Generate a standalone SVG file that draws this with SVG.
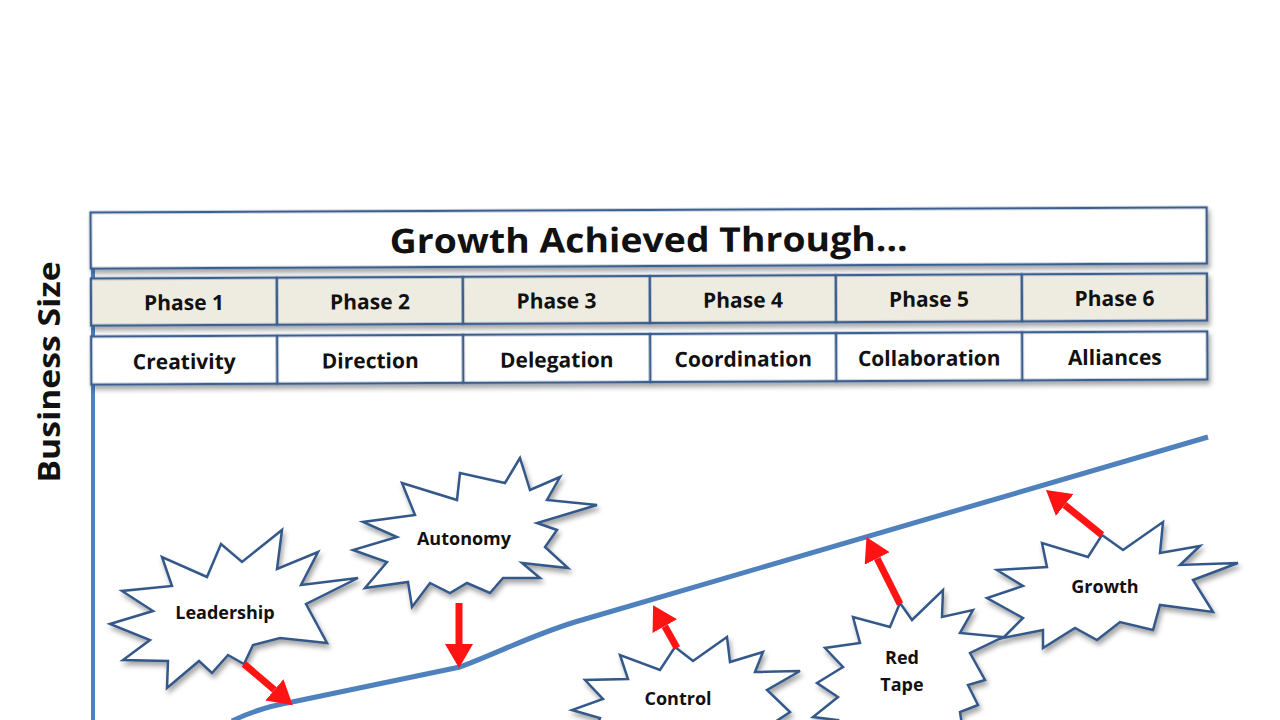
<svg xmlns="http://www.w3.org/2000/svg" width="1280" height="720" viewBox="0 0 1280 720">
<style>
.box{stroke:#3A5F8F;stroke-width:2.5}
.title{fill:#fff}
.ph{fill:#EEEBE1}
.wh{fill:#fff}
.t{font-family:"Open Sans","Liberation Sans",sans-serif;font-weight:700;fill:#111;text-anchor:middle}
.cell{font-size:21px}
.star{fill:#fff;stroke:#34598A;stroke-width:2.5;stroke-linejoin:miter}
.lbl{font-size:18px;fill:#111}
.arrow{stroke:#FF1414;stroke-width:7;fill:none;marker-end:url(#head)}
</style>
<defs>
<filter id="sh" x="-10%" y="-10%" width="120%" height="130%">
<feDropShadow dx="2" dy="4" stdDeviation="2.5" flood-color="#000" flood-opacity="0.35"/>
</filter>
<marker id="head" markerUnits="userSpaceOnUse" markerWidth="24" markerHeight="28" viewBox="0 0 24 28" refX="0" refY="14" orient="auto">
<path d="M0,0 L24,14 L0,28 z" fill="#FF1414"/>
</marker>
</defs>
<rect width="1280" height="720" fill="#fff"/>

<text class="t" transform="translate(60,372) rotate(-90)" font-size="31" textLength="221" lengthAdjust="spacingAndGlyphs">Business Size</text>
<line x1="93" y1="212" x2="93" y2="720" stroke="#4F81BD" stroke-width="4"/>

<g id="header" transform="rotate(-0.26 649 300)">
<g id="title-box">
<rect class="box title" x="91" y="210" width="1116" height="56" filter="url(#sh)"/>
<text class="t" x="649" y="252" font-size="34" textLength="518" lengthAdjust="spacingAndGlyphs">Growth Achieved Through…</text>
</g>
<g id="phases" filter="url(#sh)">
<rect class="box ph" x="91" y="276" width="186" height="47"/>
<rect class="box ph" x="277" y="276" width="186" height="47"/>
<rect class="box ph" x="463" y="276" width="187" height="47"/>
<rect class="box ph" x="650" y="276" width="186" height="47"/>
<rect class="box ph" x="836" y="276" width="186" height="47"/>
<rect class="box ph" x="1022" y="276" width="185" height="47"/>
</g>
<g id="phase-labels">
<text class="t cell" x="184" y="308">Phase 1</text>
<text class="t cell" x="370" y="308">Phase 2</text>
<text class="t cell" x="556.5" y="308">Phase 3</text>
<text class="t cell" x="743" y="308">Phase 4</text>
<text class="t cell" x="929" y="308">Phase 5</text>
<text class="t cell" x="1114.5" y="308">Phase 6</text>
</g>
<g id="drivers" filter="url(#sh)">
<rect class="box wh" x="91" y="334" width="186" height="48"/>
<rect class="box wh" x="277" y="334" width="186" height="48"/>
<rect class="box wh" x="463" y="334" width="187" height="48"/>
<rect class="box wh" x="650" y="334" width="186" height="48"/>
<rect class="box wh" x="836" y="334" width="186" height="48"/>
<rect class="box wh" x="1022" y="334" width="185" height="48"/>
</g>
<g id="driver-labels">
<text class="t cell" x="184" y="367">Creativity</text>
<text class="t cell" x="370" y="367">Direction</text>
<text class="t cell" x="556.5" y="367">Delegation</text>
<text class="t cell" x="743" y="367">Coordination</text>
<text class="t cell" x="929" y="367">Collaboration</text>
<text class="t cell" x="1114.5" y="367">Alliances</text>
</g>
</g>

<g id="leadership">
<polygon class="star" filter="url(#sh)" points="282,530 277,569 318,552 301,585 358,578 306,604 327,643 280,638 253,645 244,664 228,655 212,673 199,661 167,688 168,661 123,660 150,640 110,624 153,611 122,591 172,586 162,557 207,577 221,544 242,562"/>
<text class="t lbl" x="225" y="619">Leadership</text>
</g>
<g id="autonomy">
<polygon class="star" filter="url(#sh)" points="520,458 505,483 460,473 457,500 402,483 415,515 363,522 397,537 353,550 387,562 365,588 408,582 412,607 430,583 450,593 467,583 490,593 503,578 540,578 522,563 568,568 545,547 557,530 537,523 597,505 547,500 560,477 530,490"/>
<text class="t lbl" x="464" y="545">Autonomy</text>
</g>
<g id="control">
<polygon class="star" filter="url(#sh)" points="675,647 693,661 727,637 730,662 763,652 755,672 800,671 767,690 790,712 775,722 785,745 590,745 600,718 572,710 603,699 585,680 628,679 620,655 660,670"/>
<text class="t lbl" x="678" y="705">Control</text>
</g>
<g id="red-tape">
<polygon class="star" filter="url(#sh)" points="900,603 912,620 943,590 942,617 973,610 960,633 1003,637 970,653 985,680 968,685 978,705 960,712 965,745 835,745 838,720 813,717 838,697 817,683 843,667 825,648 860,643 853,617 890,627"/>
<text class="t lbl" x="902" y="664">Red</text>
<text class="t lbl" x="902" y="691">Tape</text>
</g>
<g id="growth">
<polygon class="star" filter="url(#sh)" points="1102,535 1123,550 1163,522 1160,553 1200,546 1180,565 1238,563 1193,580 1213,612 1160,605 1153,630 1120,622 1097,640 1075,628 1043,648 1043,630 1003,638 1023,618 987,598 1023,586 997,570 1047,567 1042,543 1088,557"/>
<text class="t lbl" x="1105" y="593">Growth</text>
</g>

<g id="connectors">
<path d="M232,721 Q258,708 292,702 L460,667 C500,652 530,636 575,622 L1208,437" fill="none" stroke="#4F81BD" stroke-width="5" stroke-linejoin="round"/>
<line class="arrow" x1="244" y1="664" x2="274.4" y2="689.8"/>
<line class="arrow" x1="459" y1="603" x2="459" y2="644"/>
<line class="arrow" x1="677" y1="648" x2="664.8" y2="626.2"/>
<line class="arrow" x1="900" y1="604" x2="877.2" y2="558.5"/>
<line class="arrow" x1="1102" y1="535" x2="1064.7" y2="505"/>
</g>
</svg>
